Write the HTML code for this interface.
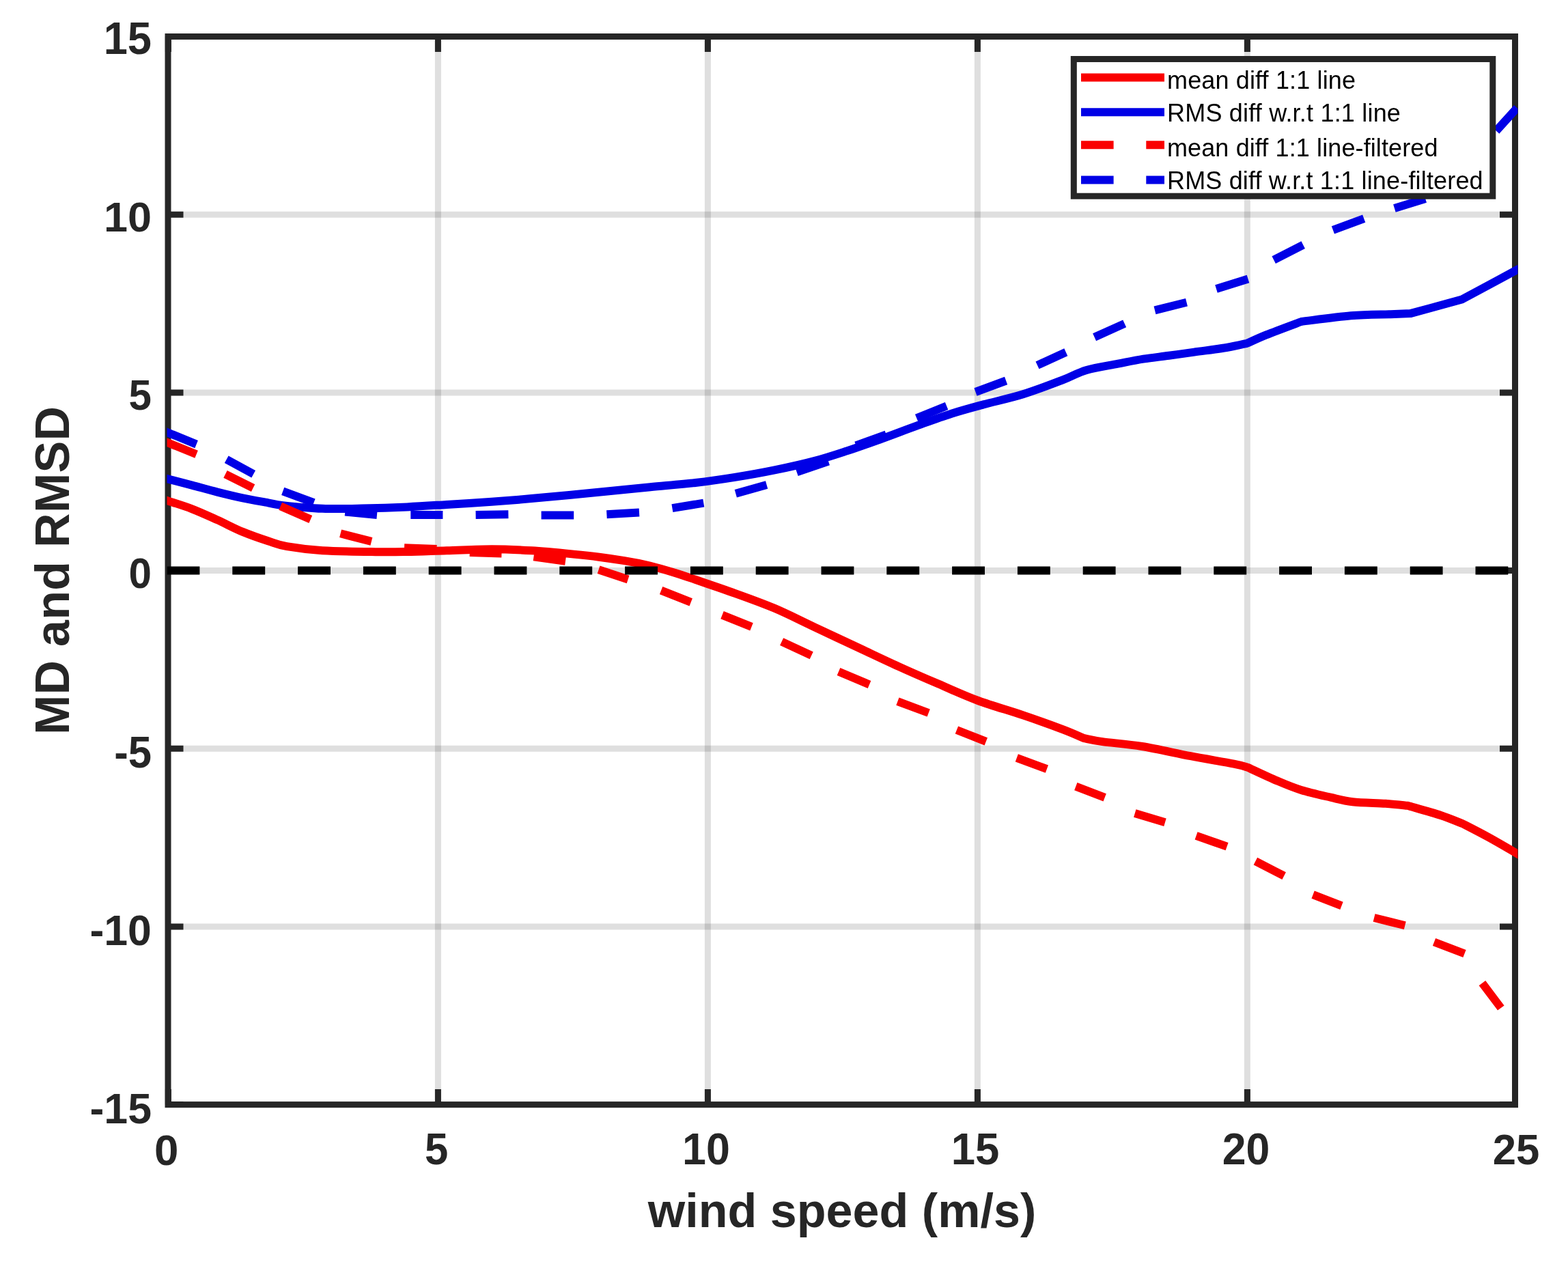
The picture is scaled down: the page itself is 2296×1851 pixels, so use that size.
<!DOCTYPE html><html><head><meta charset="utf-8"><title>MD and RMSD vs wind speed</title><style>html,body{margin:0;padding:0;background:#fff;}body{width:2296px;height:1851px;overflow:hidden;}svg{display:block;}text{font-family:"Liberation Sans",Arial,Helvetica,sans-serif;fill:#262626;}</style></head><body>
<svg width="2296" height="1851" viewBox="0 0 2296 1851">
<rect x="0" y="0" width="2296" height="1851" fill="#fff"/>
<path d="M641.4 53.5V1617.6M1036.4 53.5V1617.6M1431.4 53.5V1617.6M1826.4 53.5V1617.6" stroke="#262626" stroke-opacity="0.15" stroke-width="9" fill="none"/>
<path d="M246.0 1356.9H2218.5M246.0 1096.2H2218.5M246.0 835.6H2218.5M246.0 574.9H2218.5M246.0 314.2H2218.5" stroke="#262626" stroke-opacity="0.15" stroke-width="9" fill="none"/>
<path d="M246.4 1617.6V1595.1M246.4 53.5V76.0M641.4 1617.6V1595.1M641.4 53.5V76.0M1036.4 1617.6V1595.1M1036.4 53.5V76.0M1431.4 1617.6V1595.1M1431.4 53.5V76.0M1826.4 1617.6V1595.1M1826.4 53.5V76.0M2218.5 1617.6V1595.1M2218.5 53.5V76.0M246.0 1617.6H268.5M2218.5 1617.6H2196.0M246.0 1356.9H268.5M2218.5 1356.9H2196.0M246.0 1096.2H268.5M2218.5 1096.2H2196.0M246.0 835.6H268.5M2218.5 835.6H2196.0M246.0 574.9H268.5M2218.5 574.9H2196.0M246.0 314.2H268.5M2218.5 314.2H2196.0M246.0 53.5H268.5M2218.5 53.5H2196.0" stroke="#262626" stroke-width="9" fill="none"/>
<rect x="246.0" y="53.5" width="1972.5" height="1564.1" stroke="#262626" stroke-width="9" fill="none"/>
<defs><clipPath id="cp"><rect x="244.5" y="49" width="1977.9" height="1573"/></clipPath></defs><g clip-path="url(#cp)">
<path d="M238.0 730.8 C239.4 731.3 239.2 731.2 246.4 733.6 C253.6 736.0 269.2 740.7 281.2 745.3 C293.2 749.9 305.9 755.8 318.3 761.4 C330.7 767.0 343.1 773.8 355.5 778.9 C367.9 784.0 381.9 788.8 392.6 792.3 C403.4 795.8 406.7 797.9 420.0 800.2 C433.3 802.5 450.6 804.9 472.2 806.2 C493.8 807.5 529.1 807.9 549.7 808.2 C570.4 808.5 578.7 808.3 596.1 808.0 C613.5 807.7 633.6 806.8 654.2 806.2 C674.9 805.6 699.4 804.2 720.0 804.2 C740.6 804.2 758.1 805.1 778.1 806.3 C798.1 807.5 823.5 810.0 840.0 811.6 C856.5 813.2 864.8 814.1 877.2 815.7 C889.6 817.3 901.9 819.1 914.3 821.2 C926.7 823.3 939.1 825.5 951.5 828.5 C963.9 831.5 977.5 835.6 988.6 839.0 C999.7 842.4 1003.5 843.8 1018.1 848.8 C1032.7 853.8 1056.8 861.8 1076.1 868.8 C1095.4 875.8 1114.8 882.6 1134.2 890.8 C1153.6 899.0 1171.6 908.4 1192.2 918.1 C1212.8 927.8 1237.4 939.3 1258.1 949.0 C1278.8 958.7 1296.8 967.3 1316.1 976.1 C1335.4 984.9 1354.8 993.3 1374.2 1001.6 C1393.6 1009.9 1411.6 1018.4 1432.2 1026.0 C1452.8 1033.6 1477.4 1040.4 1498.1 1047.4 C1518.8 1054.4 1541.3 1062.5 1556.1 1068.1 C1570.9 1073.7 1581.8 1078.8 1587.0 1081.0 C1591.5 1081.8 1600.0 1084.1 1614.2 1086.1 C1628.4 1088.1 1650.7 1089.5 1672.2 1093.0 C1693.7 1096.5 1721.0 1102.9 1743.4 1107.2 C1765.8 1111.5 1792.8 1115.8 1806.7 1118.6 C1820.6 1121.3 1823.6 1122.8 1827.0 1123.7 C1834.2 1127.0 1857.0 1137.9 1870.1 1143.4 C1883.2 1149.0 1892.4 1153.0 1905.4 1157.0 C1918.5 1161.0 1935.9 1164.8 1948.4 1167.7 C1960.9 1170.6 1967.2 1172.7 1980.6 1174.2 C1994.0 1175.7 2015.5 1175.9 2029.0 1176.8 C2042.5 1177.7 2055.9 1179.3 2061.3 1179.8 C2069.4 1182.2 2096.2 1189.5 2109.7 1194.0 C2123.2 1198.5 2136.9 1204.4 2142.4 1206.5 C2148.8 1209.8 2167.3 1219.2 2180.5 1226.5 C2193.7 1233.8 2213.5 1245.4 2221.4 1250.0 C2229.3 1254.6 2226.9 1253.3 2228.0 1254.0" stroke="#fa0000" stroke-width="12" fill="none" stroke-linejoin="round"/>
<path d="M238.0 699.4 C239.4 699.8 239.2 699.7 246.4 701.6 C253.6 703.5 269.2 707.4 281.2 710.6 C293.2 713.8 305.9 717.5 318.3 720.6 C330.7 723.7 343.1 726.8 355.5 729.4 C367.9 732.0 382.8 734.5 392.6 736.3 C402.4 738.1 400.9 738.8 414.2 740.2 C427.5 741.6 452.9 744.1 472.2 744.8 C491.5 745.5 509.4 745.0 530.0 744.6 C550.6 744.2 575.4 743.4 596.1 742.4 C616.8 741.4 633.6 740.2 654.2 738.9 C674.9 737.6 699.4 736.2 720.0 734.7 C740.6 733.2 758.8 731.8 778.1 730.1 C797.5 728.5 816.8 726.6 836.1 724.8 C855.5 722.9 874.9 720.9 894.2 719.0 C913.6 717.1 931.6 715.2 952.2 713.2 C972.9 711.2 997.5 709.4 1018.1 707.0 C1038.8 704.6 1056.8 702.0 1076.1 698.9 C1095.4 695.8 1114.8 692.4 1134.2 688.4 C1153.6 684.4 1174.6 679.8 1192.2 675.1 C1209.8 670.4 1223.5 665.8 1240.0 660.4 C1256.5 655.0 1274.1 648.6 1291.1 642.5 C1308.1 636.4 1325.2 629.7 1342.2 623.6 C1359.2 617.5 1377.0 610.9 1393.3 605.7 C1409.6 600.5 1422.5 597.1 1440.0 592.4 C1457.5 587.7 1478.8 583.3 1498.1 577.3 C1517.4 571.3 1540.6 562.3 1556.1 556.4 C1571.6 550.5 1577.5 545.8 1591.0 541.9 C1604.5 538.0 1623.3 535.4 1637.2 532.7 C1651.1 530.0 1661.9 527.7 1674.3 525.7 C1686.7 523.7 1699.1 522.5 1711.5 520.8 C1723.9 519.1 1734.5 517.6 1748.6 515.6 C1762.7 513.6 1783.1 511.2 1796.1 509.0 C1809.1 506.8 1821.4 503.7 1826.5 502.6 C1831.1 500.6 1841.0 495.7 1854.2 490.4 C1867.4 485.1 1896.9 474.2 1905.4 471.0 C1917.5 469.6 1956.3 464.1 1978.1 462.3 C1999.9 460.5 2021.6 460.7 2036.1 460.2 C2050.6 459.7 2060.3 459.3 2065.1 459.1 C2069.9 457.8 2081.6 454.7 2094.2 451.3 C2106.8 447.9 2132.9 440.6 2140.6 438.5 C2145.5 435.9 2156.5 430.0 2170.0 422.8 C2183.5 415.6 2211.7 400.3 2221.4 395.1 C2231.1 389.9 2226.9 392.1 2228.0 391.5" stroke="#0000e6" stroke-width="12" fill="none" stroke-linejoin="round"/>
<path d="M238.0 645.2 L287.6 665.2M330.0 694.3 L370.6 714.6M410.7 741.3 L454.8 760.5M498.6 781.3 L543.9 792.9M592.0 802.3 L639.5 804.1M687.8 809.0 L734.5 810.5M781.5 815.4 L828.0 821.8M876.6 834.3 L919.6 848.5M968.1 864.7 L1011.7 881.8M1057.5 900.7 L1100.5 917.8M1144.6 939.6 L1188.2 959.9M1228.0 983.5 L1273.0 1002.5M1314.4 1027.1 L1359.7 1044.0M1400.9 1069.0 L1443.8 1085.8M1488.8 1109.9 L1532.9 1126.1M1575.3 1151.7 L1617.7 1167.9M1661.8 1191.1 L1706.0 1204.2M1751.6 1223.8 L1796.6 1239.7M1838.4 1261.2 L1880.2 1282.7M1922.6 1310.2 L1964.5 1326.3M2012.1 1344.0 L2057.3 1355.3M2100.0 1379.5 L2144.5 1396.5M2170.4 1439.7 L2197.8 1476.0" stroke="#fa0000" stroke-width="12" fill="none" stroke-linecap="butt"/>
<path d="M238.0 630.3 L287.6 650.6M331.7 672.8 L371.2 694.3M414.2 719.3 L459.5 736.1M505.3 749.5 L552.0 754.0M601.3 754.0 L648.4 754.0M696.6 754.0 L744.4 753.3M792.6 754.4 L840.2 754.4M888.4 753.3 L936.0 750.4M984.4 744.2 L1030.3 736.6M1077.3 722.7 L1122.6 709.9M1166.7 691.4 L1213.0 675.5M1253.4 652.5 L1297.7 636.3M1342.2 612.3 L1386.1 594.5M1428.5 574.0 L1473.1 557.5M1519.0 534.9 L1560.8 515.7M1602.6 493.7 L1646.7 473.9M1691.0 454.4 L1737.5 442.8M1781.0 423.0 L1827.5 408.5M1865.2 380.6 L1908.2 358.6M1951.9 336.9 L1997.2 320.1M2041.9 305.0 L2087.2 291.0M2124.0 259.0 L2142.4 245.0 L2158.6 227.2M2190.9 191.6 L2221.4 158.0" stroke="#0000e6" stroke-width="12" fill="none" stroke-linecap="butt"/>
<line x1="244.5" y1="835.6" x2="2221.4" y2="835.6" stroke="#000" stroke-width="12" stroke-dasharray="47.9 47.9"/>
</g>
<text transform="translate(151.68,79.22) scale(0.9803,1.0189)" font-size="64.5" font-weight="bold">15</text>
<text transform="translate(151.90,338.55) scale(0.9770,0.9498)" font-size="64.5" font-weight="bold">10</text>
<text transform="translate(188.56,600.39) scale(0.9315,0.9650)" font-size="64.5" font-weight="bold">5</text>
<text transform="translate(188.55,861.26) scale(0.9327,0.9711)" font-size="64.5" font-weight="bold">0</text>
<text transform="translate(167.30,1124.40) scale(0.9548,1.0142)" font-size="64.5" font-weight="bold">-5</text>
<text transform="translate(131.45,1384.20) scale(0.9709,0.9711)" font-size="64.5" font-weight="bold">-10</text>
<text transform="translate(131.44,1645.05) scale(0.9715,0.9689)" font-size="64.5" font-weight="bold">-15</text>
<text transform="translate(226.04,1706.03) scale(0.9872,0.9750)" font-size="64.5" font-weight="bold">0</text>
<text transform="translate(622.11,1704.99) scale(0.9564,0.9957)" font-size="64.5" font-weight="bold">5</text>
<text transform="translate(999.10,1704.79) scale(0.9740,0.9962)" font-size="64.5" font-weight="bold">10</text>
<text transform="translate(1392.66,1705.21) scale(0.9848,0.9962)" font-size="64.5" font-weight="bold">15</text>
<text transform="translate(1789.66,1705.24) scale(0.9701,0.9977)" font-size="64.5" font-weight="bold">20</text>
<text transform="translate(2185.71,1704.80) scale(0.9555,0.9855)" font-size="64.5" font-weight="bold">25</text>
<text x="1233" y="1797" font-size="70" font-weight="bold" text-anchor="middle" textLength="568.5" lengthAdjust="spacing">wind speed (m/s)</text>
<text transform="translate(101,835.5) rotate(-90)" x="0" y="0" font-size="70" font-weight="bold" text-anchor="middle" textLength="481" lengthAdjust="spacing">MD and RMSD</text>
<rect x="1572.3" y="86.5" width="613.5" height="200.7" fill="#fff" stroke="#262626" stroke-width="9"/>
<line x1="1583" y1="113.5" x2="1705" y2="113.5" stroke="#fa0000" stroke-width="12"/>
<text x="1709" y="129.8" font-size="36" textLength="276.0" lengthAdjust="spacing" style="fill:#000">mean diff 1:1 line</text>
<line x1="1583" y1="164.3" x2="1705" y2="164.3" stroke="#0000e6" stroke-width="12"/>
<text x="1709" y="177.6" font-size="36" textLength="341.9" lengthAdjust="spacing" style="fill:#000">RMS diff w.r.t 1:1 line</text>
<line x1="1583" y1="212.3" x2="1705" y2="212.3" stroke="#fa0000" stroke-width="12" stroke-dasharray="47.6 47.7"/>
<text x="1709" y="228.9" font-size="36" textLength="396.5" lengthAdjust="spacing" style="fill:#000">mean diff 1:1 line-filtered</text>
<line x1="1583" y1="263.5" x2="1705" y2="263.5" stroke="#0000e6" stroke-width="12" stroke-dasharray="47.6 47.7"/>
<text x="1709" y="276.7" font-size="36" textLength="462.6" lengthAdjust="spacing" style="fill:#000">RMS diff w.r.t 1:1 line-filtered</text>
</svg></body></html>
